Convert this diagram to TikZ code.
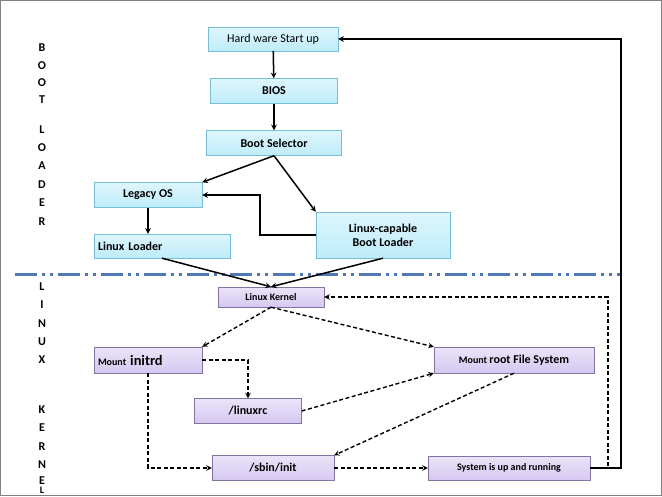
\documentclass[tikz,border=0pt]{standalone}
\usepackage{fontspec}
\setmainfont{Carlito}
\definecolor{bootfill}{RGB}{190,236,250}
\definecolor{bootline}{RGB}{120,190,215}
\definecolor{kernfill}{RGB}{214,200,242}
\definecolor{kernline}{RGB}{130,115,160}
\definecolor{sepblue}{RGB}{80,120,180}
\tikzset{
  boot/.style={draw=bootline,top color=bootfill!50,bottom color=bootfill,font=\bfseries\large,inner sep=0pt,align=center},
  kern/.style={draw=kernline,top color=kernfill!50,bottom color=kernfill,font=\bfseries\large,inner sep=0pt},
  solid arrow/.style={line width=1.5pt,->,>=stealth},
  dash arrow/.style={line width=1.4pt,dash pattern=on 4pt off 2.5pt,->,>=stealth}
}
\begin{document}
\begin{tikzpicture}[x=1pt,y=-1pt]
\useasboundingbox (0,0) rectangle (662,496);
\draw[gray] (0.5,0.5) rectangle (661.5,495.5);
% boot loader part
\node[boot,minimum width=130,minimum height=24] (hw) at (273,39) {\mdseries Hard ware Start up};
\node[boot,minimum width=127,minimum height=25] (bios) at (274,91) {BIOS};
\node[boot,minimum width=135,minimum height=25] (sel) at (274,143) {Boot Selector};
\node[boot,minimum width=108,minimum height=25] (legacy) at (148,195) {Legacy OS};
\node[boot,minimum width=136,minimum height=24,text width=128,align=left] (loader) at (162,246) {Linux Loader};
\node[boot,minimum width=134,minimum height=46] (capable) at (383,235) {Linux-capable\\Boot Loader};
% kernel part
\node[kern,minimum width=106,minimum height=20] (kernel) at (271,297) {\normalsize Linux Kernel};
\node[kern,minimum width=108,minimum height=26,text width=100] (initrd) at (148,360) {\normalsize Mount {\Large initrd}};
\node[kern,minimum width=160,minimum height=26] (root) at (514,360) {\normalsize Mount {\large root File System}};
\node[kern,minimum width=107,minimum height=25] (linuxrc) at (248,411) {/linuxrc};
\node[kern,minimum width=122,minimum height=25] (init) at (273,468) {/sbin/init};
\node[kern,minimum width=162,minimum height=24] (up) at (509,468) {\normalsize System is up and running};
% separator
\draw[sepblue,line width=3pt,dash pattern=on 22pt off 5pt on 3pt off 5pt on 3pt off 5pt] (15,274) -- (622,274);
% side letters
\foreach \l/\y in {B/48,O/66,O/83,T/100,L/130,O/148,A/166,D/185,E/203,R/222,
                   L/287,I/305,N/324,U/342,X/360,K/410,E/428,R/447,N/465,E/481}
  \node[font=\bfseries\large] at (42,\y) {\l};
\node[font=\bfseries] at (42,490) {L};
% solid connectors
\draw[solid arrow] (hw) -- (bios);
\draw[solid arrow] (bios) -- (sel);
\draw[solid arrow] (sel.south) -- (legacy.north east);
\draw[solid arrow] (sel.south) -- (capable.north west);
\draw[solid arrow] (capable.west) -- ++(-56,0) |- (legacy.east);
\draw[solid arrow] (legacy) -- (legacy|-loader.north);
\draw[solid arrow] (loader.south) -- (kernel.north);
\draw[solid arrow] (capable.south) -- (kernel.north);
\coordinate (loop) at (621,468);
\draw[solid arrow] (up.east) -- (loop) |- (hw.east);
% dashed connectors
\coordinate (back) at (608,468);
\draw[dash arrow] (up.east) -- (back) |- (kernel.east);
\draw[dash arrow] (kernel.south) -- (initrd.north east);
\draw[dash arrow] (kernel.south) -- (root.north west);
\draw[dash arrow] (initrd.east) -| (linuxrc.north);
\draw[dash arrow] (linuxrc.east) -- (root.south west);
\draw[dash arrow] (root.south) -- (init.north east);
\draw[dash arrow] (initrd.south) |- (init.west);
\draw[dash arrow] (init) -- (up);
\end{tikzpicture}
\end{document}
